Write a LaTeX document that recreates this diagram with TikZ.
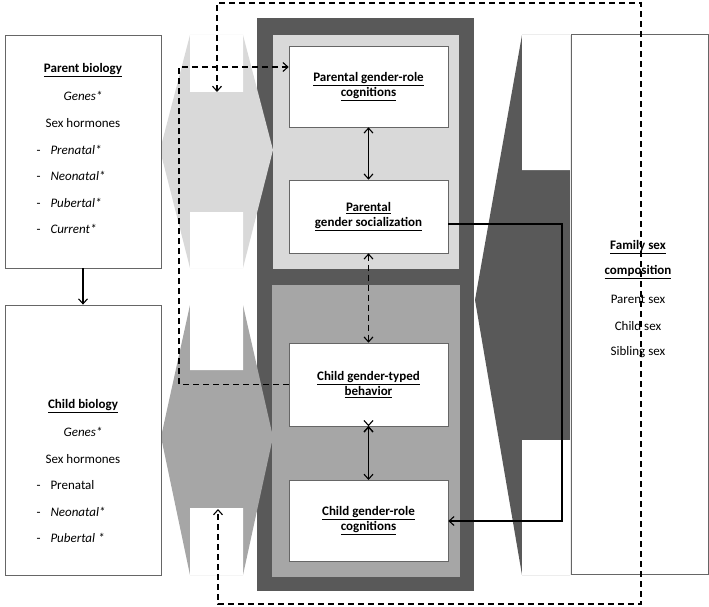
\documentclass[tikz,border=0pt]{standalone}
\usepackage{fontspec}
\setmainfont{Carlito}
\usetikzlibrary{arrows.meta}
\begin{document}
\begin{tikzpicture}[x=1pt,y=-1pt,
  box/.style={draw=black!60,fill=white,line width=0.8pt},
  inbox/.style={draw=black!60,fill=white,line width=0.6pt,align=center,font=\fontsize{13}{15}\selectfont\bfseries},
  txt/.style={font=\fontsize{13}{15}\selectfont},
  arr/.style={line width=1.1pt,-{Straight Barb[length=5pt,width=9pt]}},
  darr/.style={arr,{Straight Barb[length=5pt,width=9pt]}-{Straight Barb[length=5pt,width=9pt]}},
  dsh/.style={dash pattern=on 6pt off 4pt}]
\useasboundingbox (0,0) rectangle (709,607);
\definecolor{dg}{HTML}{595959}\definecolor{lg}{HTML}{D9D9D9}\definecolor{mg}{HTML}{A6A6A6}
% central frame
\fill[dg] (257,18) rectangle (474,591);
\fill[lg] (273,35) rectangle (459,269);
\fill[mg] (272,285) rectangle (460,577);
% left double arrows
\fill[lg] (160,150)--(190,35)--(243,35)--(273,150)--(243,268)--(190,268)--cycle;
\fill[white] (190,35) rectangle (243,92) (190,212) rectangle (243,268);
\fill[mg] (161,437)--(190,305)--(243,305)--(273,437)--(243,575)--(190,575)--cycle;
\fill[white] (190,305) rectangle (243,370) (190,508) rectangle (243,575);
% right shape
\fill[dg] (522,35)--(570,35)--(570,575)--(522,575)--(475,300)--cycle;
\fill[white] (522,35) rectangle (570,170) (522,440) rectangle (570,575);
% left boxes
\node[box,minimum width=156pt,minimum height=233pt] (pb) at (83,151.5) {};
\node[box,minimum width=156pt,minimum height=270pt] (cb) at (83,440) {};
\node[box,minimum width=137pt,minimum height=540pt] (fam) at (640,304.5) {};
% inner boxes
\node[inbox,minimum width=159pt,minimum height=81pt] (b1) at (368.5,86.5) {\underline{Parental gender-role}\\\underline{cognitions}};
\node[inbox,minimum width=159pt,minimum height=73pt] (b2) at (368.5,216.5) {\underline{Parental}\\\underline{gender socialization}};
\node[inbox,minimum width=159pt,minimum height=83pt] (b3) at (368.5,384.5) {\underline{Child gender-typed}\\\underline{behavior}};
\node[inbox,minimum width=159pt,minimum height=81pt] (b4) at (368.5,520.5) {\underline{Child gender-role}\\\underline{cognitions}};
% texts
\begin{scope}[every node/.style={txt}]
\node (t1) at (83,70) {\bfseries\underline{Parent biology}};
\node (t2) at (83,96) {\itshape Genes*};
\node (t3) at (83,123) {Sex hormones};
\node[anchor=west] (t4) at (33,150) {-\hspace{10pt}\itshape Prenatal*};
\node[anchor=west] (t5) at (33,176) {-\hspace{10pt}\itshape Neonatal*};
\node[anchor=west] (t6) at (33,203) {-\hspace{10pt}\itshape Pubertal*};
\node[anchor=west] (t7) at (33,229) {-\hspace{10pt}\itshape Current*};
\node (c1) at (83,406) {\bfseries\underline{Child biology}};
\node (c2) at (83,432) {\itshape Genes*};
\node (c3) at (83,459) {Sex hormones};
\node[anchor=west] (c4) at (33,485) {-\hspace{10pt}Prenatal};
\node[anchor=west] (c5) at (33,512) {-\hspace{10pt}\itshape Neonatal*};
\node[anchor=west] (c6) at (33,538) {-\hspace{10pt}\itshape Pubertal *};
\node (f1) at (638,247) {\bfseries\underline{Family sex}};
\node (f2) at (638,272) {\bfseries\underline{composition}};
\node (f3) at (638,299) {Parent sex};
\node (f4) at (638,326) {Child sex};
\node (f5) at (638,352) {Sibling sex};
\end{scope}
% connectors
\coordinate (nt) at (217,92); \coordinate (nb) at (218,509);
\draw[darr,dsh] (nt) -- (217,3) -- (641,3) -- (641,604) -- (218,604) -- (nb);
\draw[arr,dsh] (b3.west) -- (179,384.5) -- (179,67) -- (b1.west |- 0,67);
\draw[darr,dsh] (b2.south) -- (b3.north);
\draw[darr] (b1.south) -- (b2.north);
\draw[darr] (b3.south) -- (b4.south |- b3.south) ;
\draw[darr] (368.5,426) -- (368.5,480);
\draw[arr] (b2.east |- 0,224) -- (562,224) -- (562,521) -- (b4.east |- 0,521);
\draw[arr] (pb.south) -- (cb.north);
\end{tikzpicture}
\end{document}
